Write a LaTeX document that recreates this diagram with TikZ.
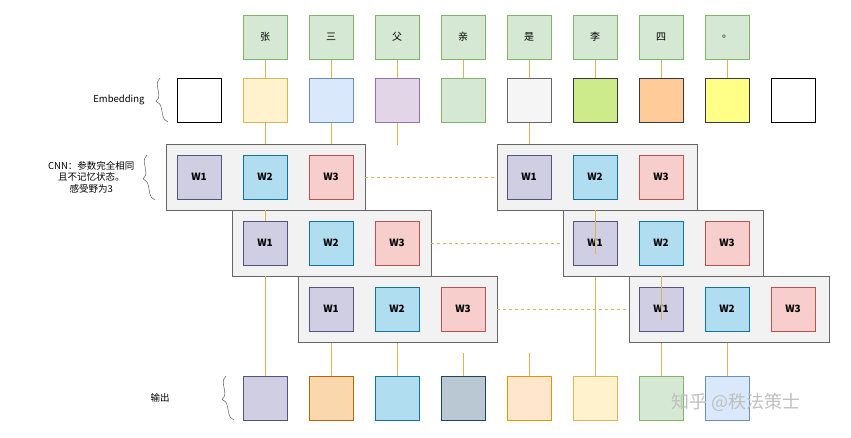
\documentclass[tikz,border=0pt]{standalone}
\usepackage{fontspec}
\setmainfont{Noto Sans CJK SC}
\usetikzlibrary{decorations.pathreplacing}
\definecolor{gf}{HTML}{D5E8D4}\definecolor{gs}{HTML}{82B366}
\definecolor{tanline}{HTML}{D6B656}
\definecolor{w1f}{HTML}{D0CEE2}\definecolor{w1s}{HTML}{56517E}
\definecolor{w2f}{HTML}{B1DDF0}\definecolor{w2s}{HTML}{10739E}
\definecolor{w3f}{HTML}{F8CECC}\definecolor{w3s}{HTML}{B85450}
\tikzset{
 sq/.style={minimum size=44pt,inner sep=0pt,draw,line width=0.8pt,font=\fontsize{10}{12}\selectfont},
 wq/.style={sq,font=\bfseries\fontsize{10}{12}\selectfont},
 grp/.style={draw=black!60,fill=black!5,line width=0.8pt},
 conn/.style={draw=tanline,line width=0.7pt},
 dsh/.style={draw=tanline,dashed,line width=0.6pt},
 br/.style={decorate,decoration={brace,amplitude=8pt},draw=black!55,line width=0.6pt},
 lbl/.style={font=\fontsize{9.5}{11.5}\selectfont,align=center}
}
\begin{document}
\begin{tikzpicture}[x=1pt,y=-1pt]
\useasboundingbox (0,0) rectangle (851,438);
\foreach \x in {265,331,397,463,529,595,661,727}{
  \draw[conn] (\x,37) -- (\x,100);}
\draw[conn] (265,100) -- (265,398);
\draw[conn] (331,100) -- (331,398);
\draw[conn] (397,100) -- (397,145);
\draw[conn] (529,100) -- (529,177);
\draw[conn] (595,177) -- (595,398);
\draw[conn] (661,243) -- (661,398);
\draw[conn] (727,309) -- (727,398);
\draw[conn] (397,343) -- (397,398);
\draw[conn] (463,353) -- (463,398);
\draw[conn] (529,353) -- (529,398);
\foreach \i/\t in {2/张,3/三,4/父,5/亲,6/是,7/李,8/四,9/。}{
  \node[sq,fill=gf,draw=gs] (t\i) at ({199+66*(\i-1)},37) {\t};}
\foreach \i/\f/\s in {1/FFFFFF/000000,2/FFF2CC/D6B656,3/DAE8FC/6C8EBF,4/E1D5E7/9673A6,5/D5E8D4/82B366,6/F5F5F5/666666,7/CDEB8B/36393D,8/FFCC99/36393D,9/FFFF88/36393D,10/FFFFFF/000000}{
  \definecolor{ef}{HTML}{\f}\definecolor{es}{HTML}{\s}
  \node[sq,fill=ef,draw=es] (e\i) at ({199+66*(\i-1)},100) {};}
\foreach \r/\lx/\rx in {1/199/529,2/265/595,3/331/661}{
  \pgfmathsetmacro{\cy}{177+66*(\r-1)}
  \draw[grp] (\lx-33,\cy-33) rectangle (\lx+166,\cy+33);
  \draw[grp] (\rx-32,\cy-33) rectangle (\rx+168,\cy+33);
  \node[wq,fill=w1f,draw=w1s] (a\r1) at (\lx,\cy) {W1};
  \node[wq,fill=w2f,draw=w2s] (a\r2) at (\lx+66,\cy) {W2};
  \node[wq,fill=w3f,draw=w3s] (a\r3) at (\lx+132,\cy) {W3};
  \node[wq,fill=w1f,draw=w1s] (b\r1) at (\rx,\cy) {W1};
  \node[wq,fill=w2f,draw=w2s] (b\r2) at (\rx+66,\cy) {W2};
  \node[wq,fill=w3f,draw=w3s] (b\r3) at (\rx+132,\cy) {W3};
  \draw[dsh] (\lx+166,\cy) -- (\rx-32,\cy);
}
\draw[conn] (265,210) -- (265,221);
\draw[conn] (595,210) -- (595,254);
\draw[conn] (661,276) -- (661,320);
\draw[conn] (265,276) -- (265,376);
\draw[conn] (331,343) -- (331,376);
\foreach \i/\f/\s in {2/D0CEE2/56517E,3/FAD7AC/B46504,4/B1DDF0/10739E,5/BAC8D3/23445D,6/FFE6CC/D79B00,7/FFF2CC/D6B656,8/D5E8D4/82B366,9/DAE8FC/6C8EBF}{
  \definecolor{of}{HTML}{\f}\definecolor{os}{HTML}{\s}
  \node[sq,fill=of,draw=os] (o\i) at ({199+66*(\i-1)},398) {};}
\draw[br] (168,122) -- (160,78);
\node[lbl,anchor=east] at (148,100) {Embedding};
\draw[br] (155,200) -- (147,155);
\node[lbl,anchor=east] at (138,177) {CNN：参数完全相同\\且不记忆状态。\\感受野为3};
\draw[br] (234,420) -- (226,376);
\node[lbl] at (160,398) {输出};
\node[font=\fontsize{18}{20}\selectfont,text=black!25] at (736,402) {知乎 @秩法策士};
\end{tikzpicture}
\end{document}
